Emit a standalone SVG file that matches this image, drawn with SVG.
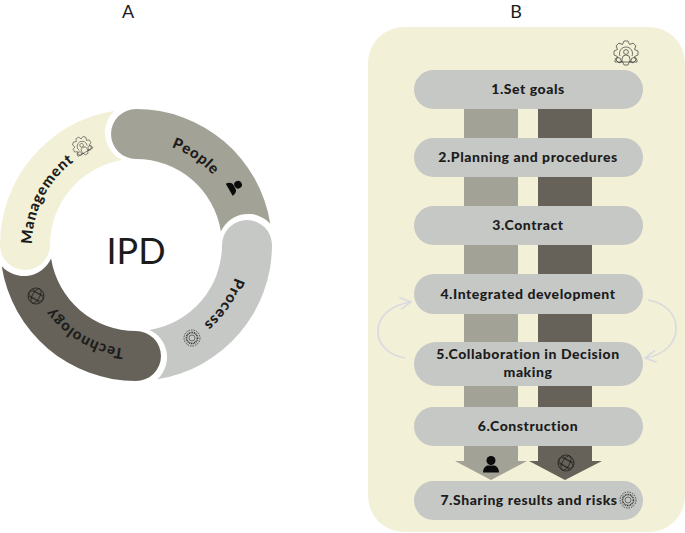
<svg xmlns="http://www.w3.org/2000/svg" width="685" height="533" viewBox="0 0 685 533">
<style>
.t{font-family:"Lato","Liberation Sans",sans-serif;fill:#1c1c1c}
.title{font-size:18px;text-anchor:middle}
.ipd{font-size:36px;text-anchor:middle}
.ring{font-size:15px;font-weight:900;letter-spacing:.8px;text-anchor:middle}
.lab{font-size:14px;font-weight:900;letter-spacing:.55px;text-anchor:middle}
.pill{fill:#c6c8c6}
.ln{fill:none;stroke:#3a3a36;stroke-width:.7}
.cv{fill:none;stroke:#d9dae0;stroke-width:1.6}
</style>
<defs>
<path id="seg" d="M136 109A136 136 0 0 1 270.3 223.7A30 30 0 0 0 220.9 231.5A86 86 0 0 0 136 159A25 25 0 0 1 136 109Z"/>
<path id="arc" d="M45.900 193A104 104 0 0 1 226.100 193" fill="none"/>
<path id="tooth" d="M-3.500-8.500L-2-12H2L3.500-8.500"/>
<g id="gear" class="ln">
<use href="#tooth"/><use href="#tooth" transform="rotate(45)"/><use href="#tooth" transform="rotate(90)"/><use href="#tooth" transform="rotate(135)"/><use href="#tooth" transform="rotate(180)"/><use href="#tooth" transform="rotate(225)"/><use href="#tooth" transform="rotate(270)"/><use href="#tooth" transform="rotate(315)"/>
<path d="M-6 3A6.500 6.500 0 1 1 6 3"/><circle cy="-1" r="2.400"/>
<path d="M-4 9V6A4 4 0 0 1 4 6V9M-11 9V7.500A3 3 0 0 1-5 7.500V9M5 9V7.500A3 3 0 0 1 11 7.500V9M-11 9H11"/>
</g>
<g id="proc" fill="none" stroke="#2e2e2b">
<circle r="8" stroke-width=".8" stroke-dasharray="1.600 1"/><circle r="5.500" stroke-width="1.600" stroke-dasharray="1 .7"/><circle r="3" stroke-width=".6"/>
</g>
<g id="globe" fill="none" stroke="#24241f" stroke-width=".8">
<circle r="8"/><ellipse rx="3.600" ry="8"/><ellipse rx="8" ry="3.600"/><path d="M-6.500-4.500Q0-1.500 6.500-4.500M-6.500 4.500Q0 1.500 6.500 4.500"/>
</g>
<g id="person" fill="#0b0b0b">
<circle cy="-5.500" r="4.500"/><path d="M-8 6.500C-8 2-5-.5-3-.5H3C5-.5 8 2 8 6.500Z"/>
</g>
<marker id="chev" viewBox="0 0 14 14" refX="13" refY="7" markerWidth="14" markerHeight="14" markerUnits="userSpaceOnUse" orient="auto"><path d="M2 1L13 7L2 13" fill="none" stroke="#d9dae0" stroke-width="1.600"/></marker>
</defs>

<text class="t title" x="128" y="17.500">A</text>
<text class="t title" x="516" y="17.500">B</text>

<g id="ring-management" fill="#f2f0d6"><use href="#seg" transform="rotate(270 136 245)"/>
<text class="t ring" transform="rotate(297 136 245)"><textPath href="#arc" startOffset="50%">Management</textPath></text>
<use href="#gear" transform="translate(82 146) rotate(-30) scale(.78)"/>
</g>
<g id="ring-people" fill="#a3a296"><use href="#seg"/>
<text class="t ring" transform="rotate(34 136 245)"><textPath href="#arc" startOffset="50%">People</textPath></text>
<use href="#person" transform="translate(234 187) rotate(60) scale(.85)"/>
</g>
<g id="ring-process" fill="#c6c8c6"><use href="#seg" transform="rotate(90 136 245)"/>
<text class="t ring" transform="rotate(124 136 245)"><textPath href="#arc" startOffset="50%">Process</textPath></text>
<use href="#proc" transform="translate(192 338)"/>
</g>
<g id="ring-technology" fill="#666259"><use href="#seg" transform="rotate(180 136 245)"/>
<text class="t ring" transform="rotate(210 136 245)"><textPath href="#arc" startOffset="50%">Technology</textPath></text>
<use href="#globe" transform="translate(36 296) rotate(30)"/>
</g>
<text id="ipd" class="t ipd" x="136" y="264">IPD</text>

<g id="panel"><rect x="368" y="27" width="317" height="505" rx="36" fill="#f2f0d6"/>
<use href="#gear" transform="translate(626 53)"/></g>

<g id="connectors">
<path fill="#a3a296" d="M464 95H518V461H527L491 480L455 461H464Z"/>
<path fill="#666259" d="M538 95H592V461H602L565 480L529 461H538Z"/>
<path class="cv" marker-end="url(#chev)" d="M405 358C368 352 368 308 411 302"/>
<path class="cv" marker-end="url(#chev)" d="M648 300C686 306 686 352 645 358"/>
</g>

<g id="step1"><rect class="pill" x="414" y="70" width="229" height="39" rx="19.500"/><text class="t lab" x="528" y="93.500">1.Set goals</text></g>
<g id="step2"><rect class="pill" x="414" y="138" width="229" height="39" rx="19.500"/><text class="t lab" x="528" y="162">2.Planning and procedures</text></g>
<g id="step3"><rect class="pill" x="414" y="206" width="229" height="39" rx="19.500"/><text class="t lab" x="528" y="230">3.Contract</text></g>
<g id="step4"><rect class="pill" x="414" y="274" width="229" height="40" rx="20"/><text class="t lab" x="528" y="298.500">4.Integrated development</text></g>
<g id="step5"><rect class="pill" x="414" y="342" width="229" height="44" rx="22"/><text class="t lab" x="528" y="359">5.Collaboration in Decision</text><text class="t lab" x="528" y="377">making</text></g>
<g id="step6"><rect class="pill" x="414" y="407" width="229" height="39" rx="19.500"/><text class="t lab" x="528" y="431">6.Construction</text></g>
<g id="step7"><rect class="pill" x="414" y="481" width="229" height="39" rx="19.500"/><text class="t lab" x="529" y="505">7.Sharing results and risks</text><use href="#proc" transform="translate(628 500)"/></g>
<use id="icon-person" href="#person" transform="translate(491 466)"/>
<use id="icon-globe" href="#globe" transform="translate(566 463) rotate(30)"/>
</svg>
